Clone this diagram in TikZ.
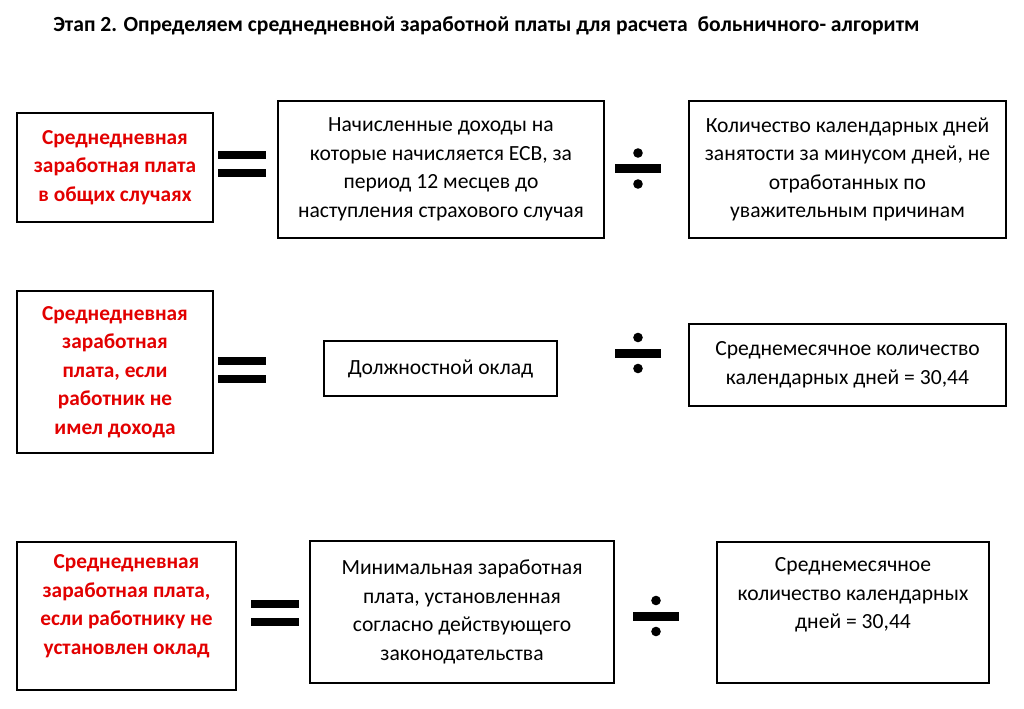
\documentclass[tikz,border=0pt]{standalone}
\usepackage{fontspec}
\setmainfont{Carlito}
\usetikzlibrary{positioning}

\definecolor{casered}{RGB}{226,0,0}

% znak "=" i znak deleniya (centr x, centr y)
\newcommand{\eqmark}[2]{%
  \fill (#1-24,#2-13) rectangle (#1+24,#2-5);
  \fill (#1-24,#2+5) rectangle (#1+24,#2+13);}
\newcommand{\divmark}[2]{%
  \fill (#1-23,#2-4.5) rectangle (#1+23,#2+4.5);
  \fill (#1,#2-15.5) circle [radius=3.6pt];
  \fill (#1,#2+15.5) circle [radius=3.6pt];}

\begin{document}
\begin{tikzpicture}[
                x=0.75pt, y=-0.75pt,
                box/.style={draw, line width=1.4pt, rectangle, align=center, inner sep=0pt,
                            font=\fontsize{16.2}{21.4}\selectfont},
                redbox/.style={box, text=casered, font=\fontsize{16}{21.4}\selectfont\bfseries},
                txt/.style={align=center, inner sep=0pt, font=\fontsize{16.2}{21.4}\selectfont}
            ]
            \useasboundingbox (0,0) rectangle (1024,709);

            % Zagolovok
            \node[anchor=west, inner sep=0pt, font=\fontsize{16.2}{19}\selectfont\bfseries] (title) at (53,26)
                {Этап 2. Определяем среднедневной заработной платы для расчета\ \ больничного- алгоритм};

            % Stroka 1 : obshchie sluchai
            \node[redbox, minimum width=147pt, minimum height=81.75pt] (avg1) at (115,167.5)
                {Среднедневная\\заработная плата\\в общих случаях};
            \eqmark{242}{164.5}
            \node[box, minimum width=244.5pt, minimum height=102.75pt] (inc1) at (441,169.5)
                {Начисленные доходы на\\которые начисляется ЕСВ, за\\период 12 месцев до\\наступления страхового случая};
            \divmark{638}{168.5}
            \node[box, minimum width=237.75pt, minimum height=102.75pt] (days1) at (847.5,169.5)
                {Количество календарных дней\\занятости за минусом дней, не\\отработанных по\\уважительным причинам};

            % Stroka 2 : net dohoda
            \node[redbox, minimum width=147pt, minimum height=121.5pt] (avg2) at (115,372)
                {Среднедневная\\заработная\\плата, если\\работник не\\имел дохода};
            \eqmark{242}{369.7}
            \node[box, minimum width=174.75pt, minimum height=41.25pt] (sal2) at (440.5,368.5)
                {Должностной оклад};
            \divmark{638}{353}
            \node[box, minimum width=237.75pt, minimum height=61.5pt] (days2) at (847.5,365)
                {Среднемесячное количество\\календарных дней = 30,44};

            % Stroka 3 : net oklada
            \node[box, minimum width=164.25pt, minimum height=111pt] (avg3) at (126.5,616) {};
            \node[txt, text=casered, font=\fontsize{16}{21.4}\selectfont\bfseries] (avg3t) at (126.5,606)
                {Среднедневная\\заработная плата,\\если работнику не\\установлен оклад};
            \eqmark{275}{613.3}
            \node[box, minimum width=228pt, minimum height=106.5pt] (min3) at (462,612)
                {Минимальная заработная\\плата, установленная\\согласно действующего\\законодательства};
            \divmark{656}{616}
            \node[box, minimum width=204pt, minimum height=105.75pt] (days3) at (853,612.5) {};
            \node[txt] (days3t) at (853,595)
                {Среднемесячное\\количество календарных\\дней = 30,44};
        \end{tikzpicture}
\end{document}
